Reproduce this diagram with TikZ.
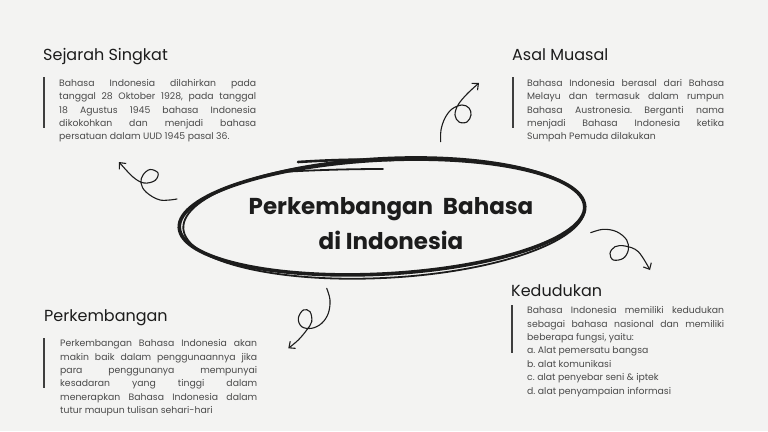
\documentclass[tikz,border=0pt]{standalone}
\usepackage{fontspec}
\setmainfont{Poppins}
\usetikzlibrary{arrows.meta}
\definecolor{bg}{HTML}{F3F3F2}
\definecolor{ink}{HTML}{1C1C1C}
\definecolor{bodyc}{HTML}{4A4A4A}
\newcommand{\jline}[1]{\makebox[197pt][s]{#1}}
\frenchspacing
\tikzset{
  heading/.style={anchor=base west, text=ink, font=\fontsize{16}{19}\selectfont, inner sep=0pt},
  bodytext/.style={anchor=north west, text=bodyc, font=\frenchspacing\fontsize{9.3}{13.4}\selectfont, inner sep=0pt, align=left},
  sidebar/.style={draw=ink!85, line width=1.2pt},
  curly/.style={draw=ink, line width=1.1pt, line cap=round, line join=round, -{Straight Barb[length=5pt,width=9pt]}},
  titletext/.style={text=ink, font=\bfseries\fontsize{23}{35}\selectfont, align=center, inner sep=0pt},
  ring/.style={draw=ink, line cap=round},
}
\begin{document}
\begin{tikzpicture}[x=1pt,y=-1pt]
\fill[bg] (0,0) rectangle (768,431);
\useasboundingbox (0,0) rectangle (768,431);

% central title
\node[titletext] (t) at (391,224) {Perkembangan\ \ Bahasa\\di Indonesia};

% hand-drawn ellipse around the title
\begin{scope}[shift={(382,217)}, rotate=3]
  \draw[ring, line width=3.6pt] (0,0) ellipse [x radius=203, y radius=57];
  \draw[ring, line width=1.8pt] (2,1) ellipse [x radius=201, y radius=60];
\end{scope}
\draw[ring, line width=2.6pt] (298,162) .. controls (330,160) and (360,159) .. (391,160);
\draw[ring, line width=1.8pt] (281,172) .. controls (315,170) and (350,169) .. (383,169);

% section: Sejarah Singkat
\node[heading] (h1) at (43,60) {Sejarah Singkat};
\node[bodytext] (b1) at (59,79) {\jline{Bahasa Indonesia dilahirkan pada}\\
\jline{tanggal 28 Oktober 1928, pada tanggal}\\
\jline{18 Agustus 1945 bahasa Indonesia}\\
\jline{dikokohkan dan menjadi bahasa}\\
persatuan dalam UUD 1945 pasal 36.};
\coordinate (s1a) at (44,77); \coordinate (s1b) at (44,128);
\draw[sidebar] (s1a) -- (s1b);

% section: Asal Muasal
\node[heading] (h2) at (512,60) {Asal Muasal};
\node[bodytext] (b2) at (527,79) {\jline{Bahasa Indonesia berasal dari Bahasa}\\
\jline{Melayu dan termasuk dalam rumpun}\\
\jline{Bahasa Austronesia. Berganti nama}\\
\jline{menjadi Bahasa Indonesia ketika}\\
Sumpah Pemuda dilakukan};
\coordinate (s2a) at (513,77); \coordinate (s2b) at (513,128);
\draw[sidebar] (s2a) -- (s2b);

% section: Perkembangan
\node[heading] (h3) at (44,321) {Perkembangan};
\node[bodytext] (b3) at (60,339.5) {\jline{Perkembangan Bahasa Indonesia akan}\\
\jline{makin baik dalam penggunaannya jika}\\
\jline{para penggunanya mempunyai}\\
\jline{kesadaran yang tinggi dalam}\\
\jline{menerapkan Bahasa Indonesia dalam}\\
tutur maupun tulisan sehari-hari};
\coordinate (s3a) at (44,338); \coordinate (s3b) at (44,388);
\draw[sidebar] (s3a) -- (s3b);

% section: Kedudukan
\node[heading] (h4) at (511,296) {Kedudukan};
\node[bodytext] (b4) at (527,306.5) {\jline{Bahasa Indonesia memiliki kedudukan}\\
\jline{sebagai bahasa nasional dan memiliki}\\
beberapa fungsi, yaitu:\\
a. Alat pemersatu bangsa\\
b. alat komunikasi\\
c. alat penyebar seni \& iptek\\
d. alat penyampaian informasi};
\coordinate (s4a) at (512,305); \coordinate (s4b) at (512,353);
\draw[sidebar] (s4a) -- (s4b);

% curly arrows
\coordinate (a1s) at (177,199); \coordinate (a1e) at (119,162);
\draw[curly] plot[smooth, tension=0.6] coordinates {(a1s) (160,200) (146,192) (141,183) (143,175) (150,169.5) (158,173) (155,180.5) (144,183) (133,177) (a1e)};

\coordinate (a2s) at (440.7,141.7); \coordinate (a2e) at (479,83);
\draw[curly] plot[smooth, tension=0.6] coordinates {(a2s) (441,130) (445,118) (452,109) (462,105) (469,108) (471,115) (467,122) (459,122) (455,115) (458,105) (467,94) (a2e)};

\coordinate (a3s) at (590.7,232.7); \coordinate (a3e) at (650,270);
\draw[curly] plot[smooth, tension=0.6] coordinates {(a3s) (603.3,229.3) (616.7,231.7) (626.7,240) (628.3,250) (623.3,258.3) (613.3,260) (610,253.3) (615,246.7) (625,246) (638.3,251.7) (a3e)};

\coordinate (a4s) at (326.7,288.3); \coordinate (a4e) at (288.3,348.3);
\draw[curly] plot[smooth, tension=0.6] coordinates {(a4s) (330,300) (328.3,313.3) (321.7,323.3) (311.7,328.3) (301.7,326.7) (298.3,318.3) (303.3,310) (310,311.7) (311.7,321.7) (306.7,330) (298.3,340) (a4e)};
\end{tikzpicture}
\end{document}
